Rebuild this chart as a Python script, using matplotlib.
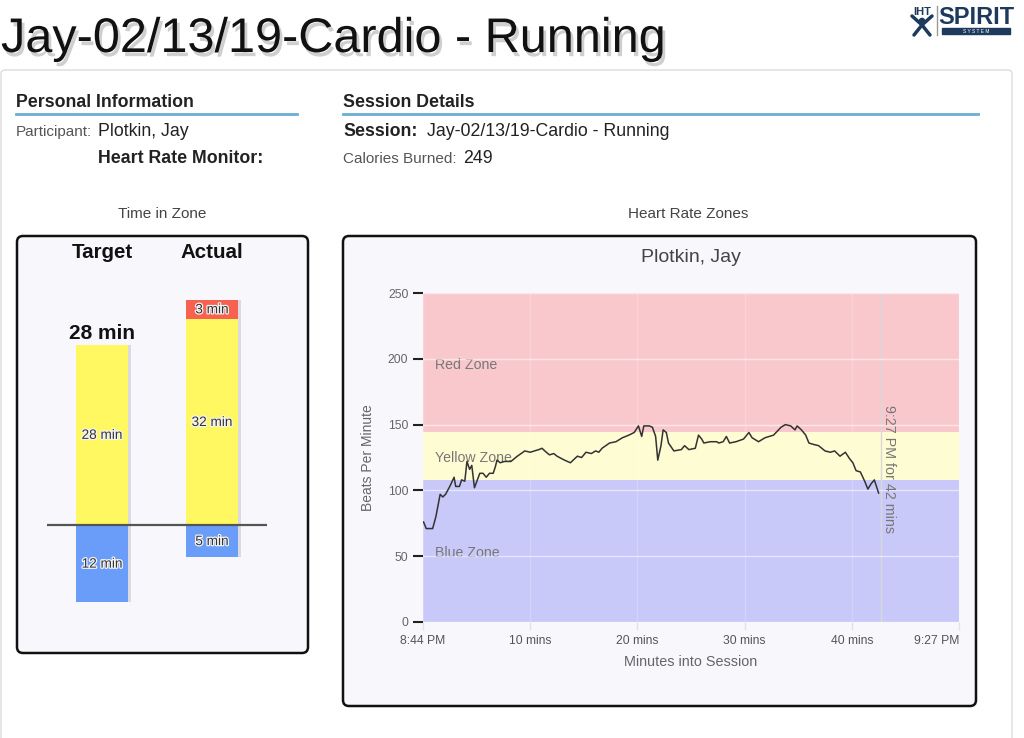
import matplotlib
matplotlib.use("Agg")
import matplotlib.pyplot as plt
import matplotlib.patheffects as pe
import matplotlib.transforms as mtransforms
from matplotlib.patches import FancyBboxPatch, Rectangle, Circle

plt.rcParams['font.family'] = ['Liberation Sans', 'DejaVu Sans']

W, H = 1024, 738

# ---- data
session_title = "Jay-02/13/19-Cardio - Running"
participant = "Plotkin, Jay"
calories = 249

bar_names = ["Target", "Actual"]
blue_min = [12, 5]      # below the baseline
yellow_min = [28, 32]
red_min = [0, 3]
target_total = 28

zone_names = ["Blue Zone", "Yellow Zone", "Red Zone"]
zone_edges = [0, 108, 144, 250]
zone_colors = ["#c8c8f9", "#fefcd2", "#f9c8cd"]

tick_pos = [0, 10, 20, 30, 40, 50]
tick_labels = ["8:44 PM", "10 mins", "20 mins", "30 mins", "40 mins", "9:27 PM"]
session_end = 42.7
session_note = "9:27 PM for 42 mins"

hr_min = [0.05, 0.3, 0.9, 1.2, 1.6, 1.85, 2.1, 2.5, 2.9, 3.05, 3.4, 3.6, 3.9, 4.1,
          4.35, 4.55, 4.8, 5.3, 5.6, 5.9, 6.2, 6.55, 6.75, 6.9, 7.2, 7.6, 8.2, 8.8,
          9.5, 10.0, 10.4, 10.8, 11.1, 11.5, 11.8, 12.2, 12.5, 13.2, 13.75, 14.4,
          14.8, 15.2, 15.7, 16.1, 16.4, 16.7, 17.4, 18.0, 18.6, 19.2, 19.7, 20.1,
          20.4, 20.6, 21.1, 21.4, 21.7, 21.9, 22.2, 22.4, 22.7, 22.9, 23.4, 24.1,
          24.4, 24.8, 25.4, 25.7, 26.0, 26.2, 26.8, 27.4, 27.6, 28.0, 28.3, 28.6,
          29.2, 29.9, 30.4, 30.7, 31.3, 31.9, 32.7, 33.4, 33.8, 34.3, 34.7, 34.9,
          35.3, 35.7, 36.0, 36.4, 36.9, 37.5, 38.0, 38.4, 38.9, 39.4, 39.8, 40.1,
          40.4, 40.8, 41.2, 41.5, 41.8, 42.1, 42.3, 42.5]
hr_bpm = [76, 71, 71, 80, 97, 95, 97, 103, 110, 103, 103, 108, 107, 122,
          116, 119, 102, 113, 113, 110, 113, 113, 118, 123, 121, 122, 122, 126,
          130, 129, 130, 131, 132, 129, 127, 128, 126, 123, 121, 126,
          125, 129, 128, 130, 129, 132, 136, 137, 140, 142, 144, 149,
          141, 149, 149, 148, 141, 123, 134, 146, 144, 136, 130, 131,
          134, 131, 132, 142, 139, 136, 137, 137, 136, 137, 141, 136,
          137, 139, 144, 140, 137, 140, 142, 148, 150, 149, 146, 149,
          146, 142, 136, 135, 134, 130, 129, 130, 126, 129, 124, 121,
          115, 114, 107, 101, 105, 108, 103, 98]


def box(x0, y0, x1, y1):
    # pixel box (top-left origin) -> figure fraction rect
    return [x0 / W, 1 - y1 / H, (x1 - x0) / W, (y1 - y0) / H]


fig = plt.figure(figsize=(W / 100, H / 100), dpi=100)
fig.patch.set_facecolor('white')

# ---- page background / layout in pixel coords
bg = fig.add_axes([0, 0, 1, 1])
bg.set_xlim(0, W)
bg.set_ylim(H, 0)
bg.axis('off')
bg.set_zorder(0)

bg.text(1, 52, session_title, fontsize=35, color='#111111', va='baseline',
        path_effects=[pe.withSimplePatchShadow(offset=(2, -3), shadow_rgbFace='#888888', alpha=0.4)])

# logo
navy = '#1d3a5c'
bg.text(922, 12, "IHT", fontsize=8, fontweight='bold', color=navy, ha='center', va='center')
bg.add_patch(Circle((922, 21), 2.6, color=navy))
bg.plot([912, 922, 932], [16, 25, 16], color=navy, lw=2.5, solid_capstyle='round')
bg.plot([914, 922, 930], [35, 25, 35], color=navy, lw=2.5, solid_capstyle='round')
bg.plot([937, 937], [6, 35], color='#999999', lw=1)
bg.text(976, 17, "SPIRIT", fontsize=17, fontweight='bold', color=navy, ha='center', va='center')
bg.add_patch(Rectangle((942, 28), 68, 6, color=navy))
bg.text(976, 31.2, "S Y S T E M", fontsize=3.5, color='white', ha='center', va='center')

# main panel
bg.add_patch(FancyBboxPatch((1, 70), 1011, 700, boxstyle='round,pad=0,rounding_size=4',
                            fc='white', ec='#dcdcdc', lw=1))

# info headers
bg.text(16, 107, "Personal Information", fontsize=12.8, fontweight='bold', color='#222222')
bg.plot([16, 297], [114, 114], color='#6aaed6', lw=2)
bg.text(343, 107, "Session Details", fontsize=12.8, fontweight='bold', color='#222222')
bg.plot([343, 978], [114, 114], color='#6aaed6', lw=2)

bg.text(16, 136, "Participant:", fontsize=11, color='#555555')
bg.text(98, 136, participant, fontsize=12.8, color='#222222')
bg.text(98, 163, "Heart Rate Monitor:", fontsize=12.8, fontweight='bold', color='#222222')
bg.text(343, 136, "Session:", fontsize=12.8, fontweight='bold', color='#222222')
bg.text(427, 136, session_title, fontsize=12.8, color='#222222')
bg.text(343, 163, "Calories Burned:", fontsize=11, color='#555555')
bg.text(463, 163, str(calories), fontsize=12.8, color='#222222')

bg.text(162, 214, "Time in Zone", fontsize=11, color='#444444', ha='center', va='center')
bg.text(688, 214, "Heart Rate Zones", fontsize=11, color='#444444', ha='center', va='center')

# chart frames
bg.add_patch(FancyBboxPatch((17, 236), 291, 417, boxstyle='round,pad=0,rounding_size=6',
                            fc='#f8f8fc', ec='#111111', lw=1.8))
bg.add_patch(FancyBboxPatch((343, 236), 633, 470, boxstyle='round,pad=0,rounding_size=6',
                            fc='#f8f8fc', ec='#111111', lw=1.8))

# ---- time in zone bars
axb = fig.add_axes(box(47, 290, 267, 610))
axb.set_zorder(2)
axb.patch.set_alpha(0)
axb.set_xlim(-0.5, 1.5)
axb.set_ylim(-13.2, 36.5)
axb.axis('off')

xs = list(range(len(bar_names)))
tops = [y + r for y, r in zip(yellow_min, red_min)]
axb.bar([x + 0.03 for x in xs], [t + b for t, b in zip(tops, blue_min)],
        bottom=[-b for b in blue_min], width=0.473, color='#dadae0', zorder=1)
axb.bar(xs, yellow_min, width=0.473, color='#fff860', zorder=2)
axb.bar(xs, red_min, bottom=yellow_min, width=0.473, color='#f8604f', zorder=2)
axb.bar(xs, [-b for b in blue_min], width=0.473, color='#6a9cfa', zorder=2)
axb.axhline(0, color='#555555', lw=1.6, zorder=5)

halo = [pe.withStroke(linewidth=1.8, foreground='#f4f4f4')]
for x, b, y, r in zip(xs, blue_min, yellow_min, red_min):
    for v, mid in [(b, -b / 2), (y, y / 2), (r, y + r / 2)]:
        if v > 0:
            axb.text(x, mid, f"{v} min", fontsize=9.8, color='#333333',
                     ha='center', va='center', path_effects=halo, zorder=6)

axb.annotate(f"{target_total} min", (0, target_total), xytext=(0, 1), textcoords='offset points',
             ha='center', va='bottom', fontsize=15, fontweight='bold', color='#111111')

head_tr = mtransforms.blended_transform_factory(axb.transData, axb.transAxes)
for x, name in zip(xs, bar_names):
    axb.text(x, (610 - 252) / 320, name, transform=head_tr, ha='center', va='center',
             fontsize=14.8, fontweight='bold', color='#111111')

# ---- heart rate zones chart
ax = fig.add_axes(box(423, 293, 959, 622))
ax.set_zorder(2)
ax.set_xlim(0, 50)
ax.set_ylim(0, 250)
for lo, hi, c in zip(zone_edges[:-1], zone_edges[1:], zone_colors):
    ax.axhspan(lo, hi, color=c, zorder=0, lw=0)
for lo, hi, name in zip(zone_edges[:-1], zone_edges[1:], zone_names):
    ax.text(1.1, (lo + hi) / 2 - 1.5, name, fontsize=10.2, color='#777777', va='center', zorder=1)

ax.grid(True, axis='y', color='white', alpha=0.55, lw=1, zorder=2)
ax.grid(True, axis='x', color='white', alpha=0.2, lw=1, zorder=2)
ax.set_axisbelow(False)
ax.axvline(session_end, color='#d8d8dc', lw=1, zorder=2)
ax.plot(hr_min, hr_bpm, color='#333333', lw=1.1, zorder=4)
ax.text(session_end + 0.1, 165, session_note, rotation=270, ha='left', va='top',
        fontsize=10.3, color='#777777', zorder=5)

for s in ax.spines.values():
    s.set_visible(False)
ax.set_yticks([0, 50, 100, 150, 200, 250])
ax.set_xticks(tick_pos)
ax.set_xticklabels(tick_labels)
ax.get_xticklabels()[-1].set_ha('right')
ax.tick_params(axis='y', length=7.5, width=1.5, color='#222222', labelcolor='#666666',
               labelsize=8.7, pad=3)
ax.tick_params(axis='x', length=6, width=1, color='#e2e2e6', labelcolor='#555555',
               labelsize=8.7, pad=3)

ax.set_ylabel("Beats Per Minute", fontsize=10, color='#666666')
ax.yaxis.set_label_coords((368 - 423) / 536, 0.5)
ax.yaxis.label.set_va('center')
ax.set_xlabel("Minutes into Session", fontsize=10.4, color='#666666')
ax.xaxis.set_label_coords(0.5, (622 - 662) / 329)
ax.xaxis.label.set_va('center')
ax.text(0.5, (622 - 257) / 329, participant, transform=ax.transAxes, ha='center', va='center',
        fontsize=14, color='#444444')

fig.savefig("out.png", dpi=100)
